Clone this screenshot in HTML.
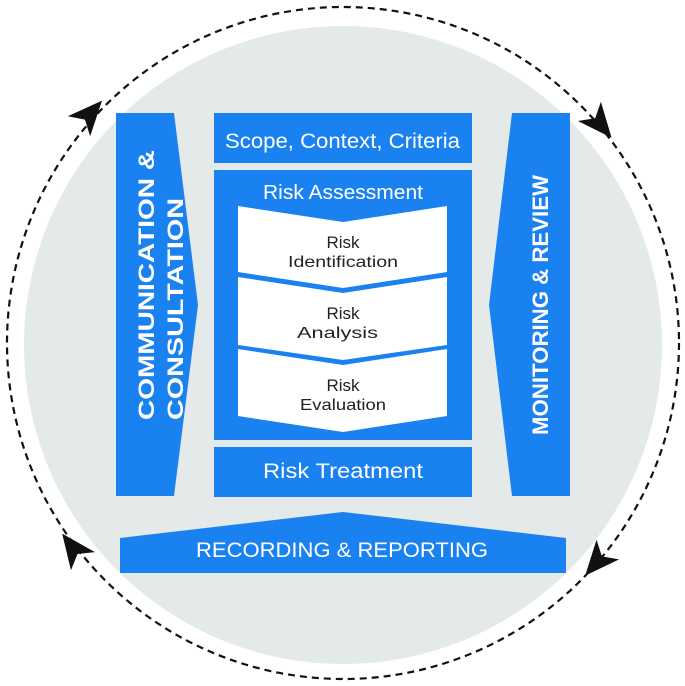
<!DOCTYPE html>
<html><head><style>
body{margin:0;background:#fff;}
svg{display:block;}
text{font-family:"Liberation Sans",sans-serif;fill:#fff;}
.d{fill:#222;}
</style></head><body>
<svg width="685" height="686" viewBox="0 0 685 686" xmlns="http://www.w3.org/2000/svg">
<circle cx="343" cy="345" r="319" fill="#e4e9e9"/>
<circle cx="343" cy="343" r="336" fill="none" stroke="#111" stroke-width="2.2" stroke-dasharray="7,5"/>
<g fill="#111">
<path d="M12,0 L-11,-10 L-5,0 L-11,10 Z" transform="translate(90,114) rotate(-48) scale(1.5)"/>
<path d="M12,0 L-11,-10 L-5,0 L-11,10 Z" transform="translate(600,124) rotate(50) scale(1.5)"/>
<path d="M12,0 L-11,-10 L-5,0 L-11,10 Z" transform="translate(597,562) rotate(131) scale(1.5)"/>
<path d="M12,0 L-11,-10 L-5,0 L-11,10 Z" transform="translate(73,548) rotate(233) scale(1.5)"/>
</g>
<g fill="#1a82f0">
<polygon points="116,113 174,113 198,305 174,496 116,496"/>
<polygon points="512,113 570,113 570,496 512,496 489,305"/>
<rect x="214" y="113" width="258" height="50"/>
<rect x="214" y="170" width="258" height="270"/>
<rect x="214" y="447" width="258" height="50"/>
<polygon points="120,538 343,512 566,538 566,573 120,573"/>
</g>
<g fill="#fff">
<polygon points="238,206 343,222 447,206 447,272 343,288 238,272"/>
<polygon points="238,277 343,293 447,277 447,345 343,360 238,345"/>
<polygon points="238,349 343,365 447,349 447,416 343,432 238,416"/>
</g>
<text x="225" y="148" font-size="21" textLength="235" lengthAdjust="spacingAndGlyphs">Scope, Context, Criteria</text>
<text x="263" y="199" font-size="20" textLength="160" lengthAdjust="spacingAndGlyphs">Risk Assessment</text>
<text x="263" y="478" font-size="21" textLength="160" lengthAdjust="spacingAndGlyphs">Risk Treatment</text>
<text x="196" y="557" font-size="21" textLength="292" lengthAdjust="spacingAndGlyphs">RECORDING &amp; REPORTING</text>
<text class="d" x="343" y="248" font-size="17" text-anchor="middle">Risk</text>
<text class="d" x="288" y="267" font-size="16" textLength="110" lengthAdjust="spacingAndGlyphs">Identification</text>
<text class="d" x="343" y="319" font-size="17" text-anchor="middle">Risk</text>
<text class="d" x="297" y="338" font-size="16" textLength="81" lengthAdjust="spacingAndGlyphs">Analysis</text>
<text class="d" x="343" y="391" font-size="17" text-anchor="middle">Risk</text>
<text class="d" x="300" y="410" font-size="16" textLength="86" lengthAdjust="spacingAndGlyphs">Evaluation</text>
<text transform="translate(154,420) rotate(-90)" font-size="22" font-weight="bold" textLength="270" lengthAdjust="spacingAndGlyphs">COMMUNICATION &amp;</text>
<text transform="translate(183,420) rotate(-90)" font-size="22" font-weight="bold" textLength="222" lengthAdjust="spacingAndGlyphs">CONSULTATION</text>
<text transform="translate(548,435) rotate(-90)" font-size="22" font-weight="bold" textLength="260" lengthAdjust="spacingAndGlyphs">MONITORING &amp; REVIEW</text>
</svg>
</body></html>
